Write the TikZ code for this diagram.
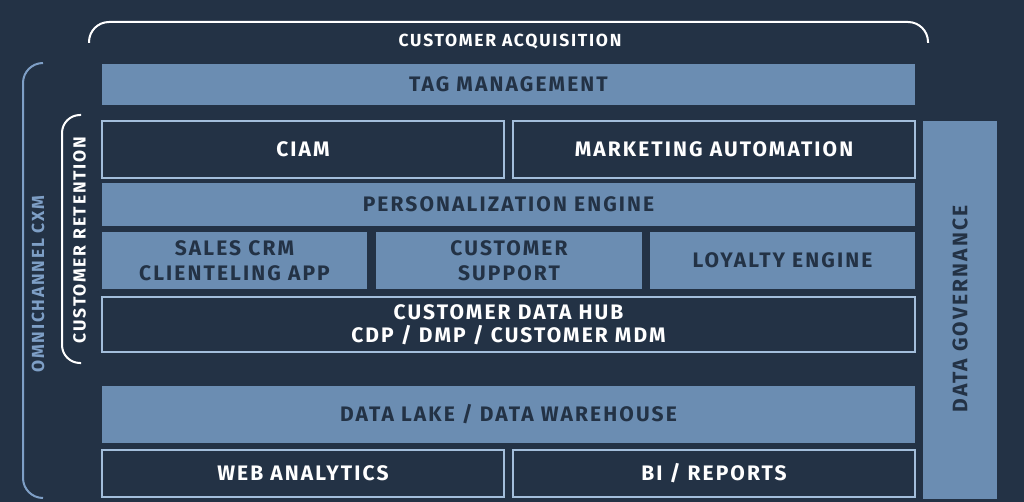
\documentclass[tikz,border=0pt]{standalone}
\usepackage{fontspec}
\setmainfont{Fira Sans}[LetterSpace=10]
\definecolor{bg}{HTML}{233245}
\definecolor{lblue}{HTML}{6B8DB2}
\definecolor{edge}{HTML}{A3BEDB}
\definecolor{bracketblue}{HTML}{7E9FC6}
\begin{document}
\begin{tikzpicture}[x=1pt,y=-1pt,
  bluebox/.style={fill=lblue, text=bg, inner sep=0pt, outer sep=0pt, align=center, font=\fontsize{21}{24.5}\selectfont\bfseries},
  darkbox/.style={fill=bg, draw=edge, line width=2pt, text=white, inner sep=0pt, outer sep=0pt, align=center, font=\fontsize{21}{23}\selectfont\bfseries},
  bracket/.style={line width=2pt, rounded corners=20pt},
  sidelabel/.style={inner sep=0pt, font=\fontsize{17.5}{18}\selectfont\bfseries}
]
\useasboundingbox[fill=bg] (0,0) rectangle (1024,502);
% brackets
\coordinate (acqL) at (89,43);
\coordinate (acqR) at (928,43);
\draw[bracket, white] (acqL) -- (89,22) -- (928,22) -- (acqR);
\node[sidelabel, text=white] (acq) at (510,41.5) {CUSTOMER ACQUISITION};
\coordinate (omT) at (43,63);
\coordinate (omB) at (43,498);
\draw[bracket, bracketblue] (omT) -- (23,63) -- (23,498) -- (omB);
\node[sidelabel, text=bracketblue, rotate=90] (omni) at (38,284) {OMNICHANNEL CXM};
\coordinate (retT) at (81,115);
\coordinate (retB) at (81,363);
\draw[bracket, white, rounded corners=18pt] (retT) -- (62,115) -- (62,363) -- (retB);
\node[sidelabel, text=white, rotate=90] (ret) at (79.5,240) {CUSTOMER RETENTION};
% boxes
\node[bluebox, minimum width=813pt, minimum height=41pt] (tag) at (508.5,84.5) {TAG MANAGEMENT};
\node[darkbox, minimum width=402pt, minimum height=57pt] (ciam) at (303,149.5) {CIAM};
\node[darkbox, minimum width=402pt, minimum height=57pt] (ma) at (714,149.5) {MARKETING AUTOMATION};
\node[bluebox, minimum width=813pt, minimum height=43pt] (pers) at (508.5,204.5) {PERSONALIZATION ENGINE};
\node[bluebox, minimum width=265pt, minimum height=57pt] (sales) at (234.5,260.5) {SALES CRM\\CLIENTELING APP};
\node[bluebox, minimum width=266pt, minimum height=57pt] (supp) at (509,260.5) {CUSTOMER\\SUPPORT};
\node[bluebox, minimum width=265pt, minimum height=57pt] (loyal) at (782.5,260.5) {LOYALTY ENGINE};
\node[darkbox, minimum width=813pt, minimum height=55pt] (cdh) at (508.5,324.5) {CUSTOMER DATA HUB\\CDP / DMP / CUSTOMER MDM};
\node[bluebox, minimum width=813pt, minimum height=57pt] (lake) at (508.5,414.5) {DATA LAKE / DATA WAREHOUSE};
\node[darkbox, minimum width=402pt, minimum height=47pt] (web) at (303,473.5) {WEB ANALYTICS};
\node[darkbox, minimum width=402pt, minimum height=47pt] (bi) at (714,473.5) {BI / REPORTS};
\node[bluebox, minimum width=74pt, minimum height=378pt] (gov) at (960,310) {};
\node[bluebox, rotate=90] (govt) at (960,309) {DATA GOVERNANCE};
\end{tikzpicture}
\end{document}
